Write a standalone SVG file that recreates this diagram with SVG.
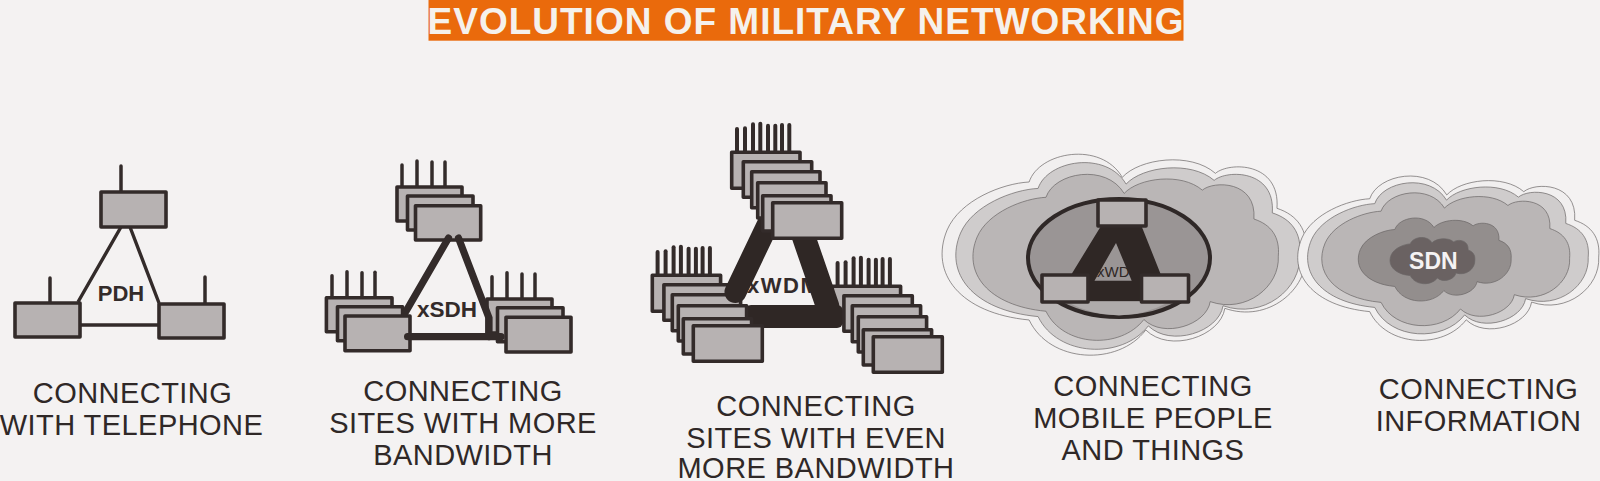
<svg xmlns="http://www.w3.org/2000/svg" width="1600" height="481" viewBox="0 0 1600 481">
<style>
text{font-family:"Liberation Sans",Arial,sans-serif;}
.cap{font-size:29px;letter-spacing:.45px;fill:#2f2827;text-anchor:middle;}
.lab{font-weight:bold;fill:#332b2a;}
.box rect{fill:#b7b2b2;stroke:#332b2a;stroke-width:3.6;stroke-linejoin:round;}
.ant line{stroke:#332b2a;stroke-width:3.5;stroke-linecap:round;}
.w line{stroke-width:4;}
#cloud{vector-effect:non-scaling-stroke;}
.cl{stroke:#6a6666;stroke-width:.7;}
.l1{fill:#f1efef}.l2{fill:#cfcccc}.l3{fill:#bab6b6}.l4{fill:#938e8d}.l5{fill:#6a6262}
.thin{stroke:#332b2a;stroke-width:3.4;fill:none;}
.mid{stroke:#332b2a;stroke-width:7.2;fill:none;stroke-linecap:round;}
.thick{stroke:#2f2725;fill:none;stroke-linecap:round;}
</style>
<defs>
<path id="cloud" d="M232,126C255,35 400,2 450,112C490,55 610,35 668,100C700,65 820,65 812,205C860,225 885,270 880,340C885,450 790,550 690,505C680,590 560,640 505,570C440,680 280,670 232,540C70,520 -2,400 40,270C70,180 170,130 232,126Z"/>
</defs>
<rect width="1600" height="481" fill="#f4f2f2"/>
<g id="title"><rect x="428.5" y="0" width="755" height="40.7" fill="#ea6a0c"/>
<text x="806" y="34" font-size="37" font-weight="bold" letter-spacing="1" text-anchor="middle" fill="#f5f1ec">EVOLUTION OF MILITARY NETWORKING</text></g>

<g id="connectors-pdh"><path class="thin" d="M121,227L78,302M130,227L159,303M80,325H159"/></g>
<g id="pdh-top" class="box ant"><line x1="121" y1="166" x2="121" y2="192"/><rect x="101" y="192" width="65" height="35"/></g>
<g id="pdh-left" class="box ant"><line x1="50" y1="278" x2="50" y2="303"/><rect x="15" y="303" width="65" height="34"/></g>
<g id="pdh-right" class="box ant"><line x1="205" y1="277" x2="205" y2="304"/><rect x="159" y="304" width="65" height="34"/></g>
<text id="pdh-label" class="lab" x="121" y="301" font-size="22" text-anchor="middle">PDH</text>

<g id="sdh-top" class="box ant">
<line x1="402" y1="165" x2="402" y2="188"/><line x1="417" y1="161" x2="417" y2="188"/><line x1="432" y1="162" x2="432" y2="188"/><line x1="445" y1="162" x2="445" y2="188"/>
<rect x="397" y="187" width="65" height="34"/><rect x="407.5" y="196" width="65.5" height="34"/><rect x="415.5" y="205.7" width="65.2" height="34.3"/></g>
<g id="sdh-left" class="box ant">
<line x1="332" y1="275.7" x2="332" y2="298"/><line x1="347" y1="271.7" x2="347" y2="298"/><line x1="362" y1="272.7" x2="362" y2="298"/><line x1="375" y1="272.3" x2="375" y2="298"/>
<rect x="326.4" y="297.7" width="65.6" height="34"/><rect x="337.5" y="306.7" width="65.1" height="34"/><rect x="345" y="316" width="65" height="34.7"/></g>
<g id="sdh-right" class="box ant">
<line x1="492" y1="276.7" x2="492" y2="299"/><line x1="507" y1="272.7" x2="507" y2="299"/><line x1="522" y1="274" x2="522" y2="299"/><line x1="535" y1="274" x2="535" y2="299"/>
<rect x="487" y="299" width="65" height="34"/><rect x="497.5" y="307.7" width="65.5" height="34"/></g>
<g id="connectors-sdh"><path class="mid" d="M448.5,238L405,313M458.5,238L489,318V337M407.6,336.7H501"/></g>
<g id="sdh-right-front" class="box"><rect x="506" y="317.3" width="65" height="34.7"/></g>
<text id="sdh-label" class="lab" x="447" y="317" font-size="22.5" text-anchor="middle">xSDH</text>

<g id="wdm-right" class="box ant w" transform="translate(100.6,134)">
<line x1="737" y1="129" x2="737" y2="154"/><line x1="745" y1="128.3" x2="745" y2="154"/><line x1="753" y1="124.3" x2="753" y2="154"/><line x1="760.3" y1="123.7" x2="760.3" y2="154"/><line x1="768" y1="125.7" x2="768" y2="154"/><line x1="775.3" y1="125.7" x2="775.3" y2="154"/><line x1="782" y1="125" x2="782" y2="154"/><line x1="789.3" y1="125" x2="789.3" y2="154"/>
<rect x="731.7" y="152.3" width="68.3" height="36"/></g>
<g id="wdm-left-back" class="box ant w" transform="translate(-79.4,123)">
<line x1="737" y1="129" x2="737" y2="154"/><line x1="745" y1="128.3" x2="745" y2="154"/><line x1="753" y1="124.3" x2="753" y2="154"/><line x1="760.3" y1="123.7" x2="760.3" y2="154"/><line x1="768" y1="125.7" x2="768" y2="154"/><line x1="775.3" y1="125.7" x2="775.3" y2="154"/><line x1="782" y1="125" x2="782" y2="154"/><line x1="789.3" y1="125" x2="789.3" y2="154"/>
<rect x="731.7" y="152.3" width="68.3" height="36"/><rect x="743.3" y="161.7" width="68.4" height="35.6"/><rect x="751.7" y="171.7" width="68.3" height="36"/></g>
<text id="wdm-label" class="lab" x="747" y="293" font-size="22" letter-spacing="1.5">xWDM</text>
<g id="connectors-wdm"><path class="thick" stroke-width="22" d="M768.5,223L735.5,292"/><path class="thick" stroke-width="23.5" d="M802,232L827.5,306"/><rect x="745" y="305" width="98" height="23" rx="6" fill="#2f2725"/></g>
<g id="wdm-left-front" class="box" transform="translate(-79.4,123)">
<rect x="757.7" y="182.7" width="68.3" height="35.3"/><rect x="762.7" y="195.7" width="68.3" height="35.3"/><rect x="772.7" y="202.7" width="69" height="35.6"/></g>
<g id="wdm-right-front" class="box" transform="translate(100.6,134)">
<rect x="743.3" y="161.7" width="68.4" height="35.6"/><rect x="751.7" y="171.7" width="68.3" height="36"/><rect x="757.7" y="182.7" width="68.3" height="35.3"/><rect x="762.7" y="195.7" width="68.3" height="35.3"/><rect x="772.7" y="202.7" width="69" height="35.6"/></g>
<g id="wdm-top" class="box ant w">
<line x1="737" y1="129" x2="737" y2="154"/><line x1="745" y1="128.3" x2="745" y2="154"/><line x1="753" y1="124.3" x2="753" y2="154"/><line x1="760.3" y1="123.7" x2="760.3" y2="154"/><line x1="768" y1="125.7" x2="768" y2="154"/><line x1="775.3" y1="125.7" x2="775.3" y2="154"/><line x1="782" y1="125" x2="782" y2="154"/><line x1="789.3" y1="125" x2="789.3" y2="154"/>
<rect x="731.7" y="152.3" width="68.3" height="36"/><rect x="743.3" y="161.7" width="68.4" height="35.6"/><rect x="751.7" y="171.7" width="68.3" height="36"/><rect x="757.7" y="182.7" width="68.3" height="35.3"/><rect x="762.7" y="195.7" width="68.3" height="35.3"/><rect x="772.7" y="202.7" width="69" height="35.6"/></g>

<g id="mobile-cloud" transform="translate(930,140) scale(.4273,.3333)">
<use href="#cloud" class="cl l1"/>
<use href="#cloud" class="cl l2" transform="translate(33.7,28.2) scale(.945,.929)"/>
<use href="#cloud" class="cl l3" transform="translate(76.8,67.8) scale(.839,.826)"/>
</g>
<g id="mobile-network">
<ellipse cx="1119" cy="258" rx="91" ry="59" fill="#9a9595" stroke="#2f2827" stroke-width="4"/>
<path d="M1067,302H1169Q1145,315 1119,315.5Q1092,315 1067,302Z" fill="#afabab"/>
<text x="1097" y="276.5" font-size="15" fill="#2f2725">xWDM</text>
<path fill="#2f2725" fill-rule="evenodd" d="M1101,226H1141.5L1161,275L1165,301H1075L1071,275ZM1116,243L1094.5,280.7H1131.7Z"/>
<g class="box"><rect x="1098" y="200" width="48" height="26"/><rect x="1042" y="275" width="46" height="27"/><rect x="1141.5" y="275" width="47" height="27"/></g>
</g>
<g id="sdn-cloud" transform="translate(930,140) scale(.4273,.3333)">
<use href="#cloud" class="cl l1" transform="translate(837.2,73.2) scale(.827,.818)"/>
<use href="#cloud" class="cl l2" transform="translate(861.9,96.2) scale(.771,.752)"/>
<use href="#cloud" class="cl l3" transform="translate(897.6,130.3) scale(.681,.661)"/>
<use href="#cloud" class="cl l4" transform="translate(990.4,216.4) scale(.42,.413)"/>
<use href="#cloud" class="cl l5" transform="translate(1070,282.7) scale(.233,.23)"/>
</g>
<text id="sdn-label" x="1433.4" y="269" font-size="23" font-weight="bold" fill="#f5f3f3" text-anchor="middle">SDN</text>

<g id="captions">
<text class="cap" x="132.5" y="402.7">CONNECTING</text><text class="cap" x="131.5" y="435">WITH TELEPHONE</text>
<text class="cap" x="463" y="401">CONNECTING</text><text class="cap" x="463" y="433">SITES WITH MORE</text><text class="cap" x="463" y="465">BANDWIDTH</text>
<text class="cap" x="816" y="416">CONNECTING</text><text class="cap" x="816" y="448">SITES WITH EVEN</text><text class="cap" x="816" y="478">MORE BANDWIDTH</text>
<text class="cap" x="1153" y="395.7">CONNECTING</text><text class="cap" x="1153" y="428">MOBILE PEOPLE</text><text class="cap" x="1153" y="460">AND THINGS</text>
<text class="cap" x="1478.6" y="399">CONNECTING</text><text class="cap" x="1478.6" y="431">INFORMATION</text>
</g>
</svg>
